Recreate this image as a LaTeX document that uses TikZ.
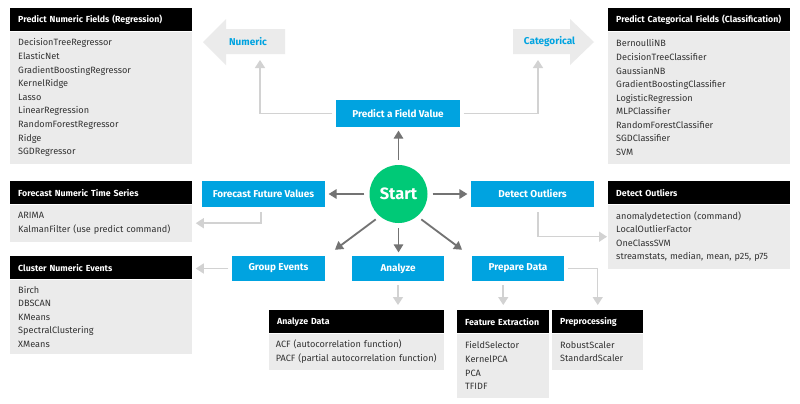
\documentclass[tikz,border=0pt]{standalone}
\usepackage{fontspec}
\setmainfont{Fira Sans}
\usetikzlibrary{arrows.meta,calc,positioning}
\definecolor{btnblue}{RGB}{0,163,224}
\definecolor{startgreen}{RGB}{0,201,119}
\definecolor{boxgray}{RGB}{235,235,235}
\definecolor{txtgray}{RGB}{50,50,50}
\definecolor{arrgray}{RGB}{115,115,115}
\definecolor{lingray}{RGB}{210,210,210}
\tikzset{
    btn/.style={fill=btnblue, text=white, font=\bfseries\fontsize{8.5}{10}\selectfont, minimum height=7.8mm, inner sep=0pt},
    hdr/.style={fill=black, text=white, font=\bfseries\fontsize{7.5}{9}\selectfont, anchor=north west,
        minimum height=6.9mm, inner xsep=2.4mm, inner ysep=0pt, text width=#1, align=left},
    lst/.style={fill=boxgray, text=txtgray, font=\fontsize{7.8}{11.6}\selectfont, anchor=north west,
        inner xsep=2.4mm, inner ysep=0pt, text width=#1, align=left},
    side/.style={text=btnblue, font=\bfseries\fontsize{8.5}{10}\selectfont},
    darr/.style={draw=arrgray, line width=0.55mm, -{Triangle[width=2.8mm,length=2.4mm]}, shorten <=1.5mm, shorten >=1mm},
    larr/.style={draw=lingray, line width=0.45mm, -{Triangle[width=3mm,length=2.4mm]}}
}
\begin{document}
\begin{tikzpicture}[x=0.3mm,y=-0.3mm]
\fill[white] (0,0) rectangle (800,403);
\useasboundingbox (0,0) rectangle (800,403);
% lists
\node[hdr=49.8mm] (rgh) at (10,8) {Predict Numeric Fields (Regression)};
\node[lst=49.8mm, minimum height=39.6mm] (rgb) at (rgh.south west) {DecisionTreeRegressor\\ElasticNet\\GradientBoostingRegressor\\KernelRidge\\Lasso\\LinearRegression\\RandomForestRegressor\\Ridge\\SGDRegressor};
\node[hdr=49.8mm] (cfh) at (608,8) {Predict Categorical Fields (Classification)};
\node[lst=49.8mm, minimum height=39.6mm] (cfb) at (cfh.south west) {BernoulliNB\\DecisionTreeClassifier\\GaussianNB\\GradientBoostingClassifier\\LogisticRegression\\MLPClassifier\\RandomForestClassifier\\SGDClassifier\\SVM};
\node[hdr=49.8mm] (tsh) at (10,181) {Forecast Numeric Time Series};
\node[lst=49.8mm, minimum height=11.1mm] (tsb) at (tsh.south west) {ARIMA\\KalmanFilter (use predict command)};
\node[hdr=49.8mm] (odh) at (608,181) {Detect Outliers};
\node[lst=49.8mm, minimum height=19.2mm] (odb) at (odh.south west) {anomalydetection (command)\\LocalOutlierFactor\\OneClassSVM\\streamstats, median, mean, p25, p75};
\node[hdr=49.8mm] (clh) at (10,256) {Cluster Numeric Events};
\node[lst=49.8mm, minimum height=22.2mm] (clb) at (clh.south west) {Birch\\DBSCAN\\KMeans\\SpectralClustering\\XMeans};
\node[hdr=47.7mm] (adh) at (269,310) {Analyze Data};
\node[lst=48.5mm, inner xsep=2mm, minimum height=10.8mm] (adb) at (adh.south west) {ACF (autocorrelation function)\\PACF (partial autocorrelation function)};
\node[hdr=22.8mm] (fxh) at (457,310) {Feature Extraction};
\node[lst=22.8mm, minimum height=19.2mm] (fxb) at (fxh.south west) {FieldSelector\\KernelPCA\\PCA\\TFIDF};
\node[hdr=22.5mm] (pph) at (552,310) {Preprocessing};
\node[lst=22.5mm, minimum height=10.8mm] (ppb) at (pph.south west) {RobustScaler\\StandardScaler};
% side arrows
\fill[boxgray] (285,29) -- (226,29) -- (226,19) -- (203,42) -- (226,65) -- (226,54) -- (285,54) -- cycle;
\node[side] (num) at (248,42) {Numeric};
\fill[boxgray] (513,29) -- (570,29) -- (570,19) -- (594,42) -- (570,65) -- (570,54) -- (513,54) -- cycle;
\node[side] (cat) at (549.5,42) {Categorical};
\coordinate (numtip) at (260,60);
\coordinate (cattip) at (538,60);
% buttons
\node[btn, minimum width=37.2mm, minimum height=8.1mm] (pred) at (398,113.5) {Predict a Field Value};
\node[btn, minimum width=36.9mm] (fcst) at (263.5,194) {Forecast Future Values};
\node[btn, minimum width=36.9mm] (det) at (532.5,194) {Detect Outliers};
\node[btn, minimum width=27.9mm, minimum height=7.5mm] (grp) at (278.5,268.5) {Group Events};
\node[btn, minimum width=27.6mm, minimum height=7.5mm] (ana) at (398,268.5) {Analyze};
\node[btn, minimum width=27.6mm, minimum height=7.5mm] (prep) at (518,268.5) {Prepare Data};
\node[circle, fill=startgreen, text=white, minimum size=17.4mm, inner sep=0pt, font=\bfseries\fontsize{14}{16}\selectfont] (start) at (398.5,194) {Start};
% connectors
\draw[darr] (start.north) -- (start.north |- pred.south);
\draw[darr] (start.west) -- (start.west -| fcst.east);
\draw[darr] (start.east) -- (start.east -| det.west);
\draw[darr] (start.south) -- (start.south |- ana.north);
\draw[darr] (start.230) -- ($(grp.north east)+(7,-4)$);
\draw[darr] (start.310) -- ($(prep.north west)+(-7,-4)$);
\draw[larr, shorten <=1mm] (pred.west) -| (numtip);
\draw[larr, shorten <=1mm] (pred.east) -| (cattip);
\draw[larr, shorten <=1.5mm, shorten >=1mm] ([xshift=-0.75mm]fcst.south) |- (tsb.east);
\draw[larr, shorten <=1.5mm, shorten >=0.3mm] ([xshift=1.65mm]det.south) |- (odb.west);
\draw[larr, shorten <=1mm, shorten >=1mm] (grp.west) -- (grp.west -| clh.east);
\draw[larr, shorten <=1.2mm, shorten >=1.5mm] (ana.south) -- (ana.south |- adh.north);
\draw[larr, shorten <=1.2mm, shorten >=1.5mm] (fxh.north |- prep.south) -- (fxh.north);
\draw[larr, shorten <=1mm, shorten >=1.5mm] (prep.east) -| (pph.north);
\end{tikzpicture}
\end{document}
